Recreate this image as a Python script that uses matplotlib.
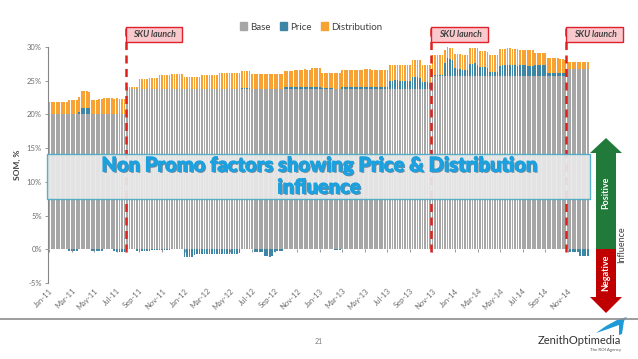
import numpy as np
import matplotlib
matplotlib.use("Agg")
import matplotlib.pyplot as plt
from matplotlib.patches import Rectangle, Polygon, Patch
import matplotlib.patheffects as pe

plt.rcParams['font.family'] = ['Lato', 'DejaVu Sans']

# ---------------- data (weekly, % share of market) ----------------
tick_labels = ["Jan-11", "Mar-11", "May-11", "Jul-11", "Sep-11", "Nov-11",
               "Jan-12", "Mar-12", "May-12", "Jul-12", "Sep-12", "Nov-12",
               "Jan-13", "Mar-13", "May-13", "Jul-13", "Sep-13", "Nov-13",
               "Jan-14", "Mar-14", "May-14", "Jul-14", "Sep-14", "Nov-14"]

base = [
    20.0, 20.0, 20.0, 20.0, 20.0, 20.0, 20.0, 20.0, 20.0, 20.0, 20.0, 20.0,
    20.0, 20.0, 20.0, 20.0, 20.0, 20.0, 20.0, 20.0, 20.0, 20.0, 20.0, 20.0,
    20.0, 20.0, 20.0, 20.0, 20.0, 20.0, 20.0, 23.8, 23.8, 23.8, 23.8, 23.8,
    23.8, 23.8, 23.8, 23.8, 23.8, 23.8, 23.8, 23.8, 23.8, 23.8, 23.8, 23.8,
    23.8, 23.8, 23.8, 23.8, 23.8, 23.8, 23.8, 23.8, 23.8, 23.8, 23.8, 23.8,
    23.8, 23.8, 23.8, 23.8, 23.8, 23.8, 23.8, 23.8, 23.8, 23.8, 23.8, 23.8,
    23.8, 23.8, 23.8, 23.8, 23.8, 23.8, 23.8, 23.8, 23.8, 23.8, 23.8, 23.8,
    23.8, 23.8, 23.8, 23.8, 23.8, 23.8, 23.8, 23.8, 23.8, 23.8, 23.8, 23.8,
    23.8, 23.8, 23.8, 23.8, 23.8, 23.8, 23.8, 23.8, 23.8, 23.8, 23.8, 23.8,
    23.8, 23.8, 23.8, 23.8, 23.8, 23.8, 23.8, 23.8, 23.8, 23.8, 23.8, 23.8,
    23.8, 23.8, 23.8, 23.8, 23.8, 23.8, 23.8, 23.8, 23.8, 23.8, 23.8, 23.8,
    23.8, 23.8, 23.8, 23.8, 23.8, 23.8, 23.8, 23.8, 23.8, 23.8, 23.8, 23.8,
    23.8, 23.8, 23.8, 23.8, 23.8, 23.8, 23.8, 23.8, 23.8, 25.7, 25.7, 25.7,
    25.7, 25.7, 25.7, 25.7, 25.7, 25.7, 25.7, 25.7, 25.7, 25.7, 25.7, 25.7,
    25.7, 25.7, 25.7, 25.7, 25.7, 25.7, 25.7, 25.7, 25.7, 25.7, 25.7, 25.7,
    25.7, 25.7, 25.7, 25.7, 25.7, 25.7, 25.7, 25.7, 25.7, 25.7, 25.7, 25.7,
    25.7, 25.7, 25.7, 25.7, 25.7, 25.7, 25.7, 25.7, 25.7, 25.7, 25.7, 25.7,
    25.7, 25.7, 25.7, 26.8, 26.8, 26.8, 26.8, 26.8, 26.8, 26.8, 26.8, 26.8,
]

price = [
    0.1, 0.1, 0.1, 0.1, 0.0, 0.0, 0.0, 0.0, -0.25, -0.3, -0.25, -0.2,
    0.3, 1.0, 1.0, 1.0, 0.9, -0.2, -0.2, -0.25, -0.2, -0.2, 0.0, 0.0,
    0.0, 0.0, -0.3, -0.35, -0.4, -0.35, -0.4, 0.0, 0.0, 0.0, 0.0, -0.2,
    -0.2, -0.2, -0.25, -0.2, -0.2, -0.15, -0.15, -0.15, -0.1, -0.15, -0.15, -0.15,
    -0.15, 0.0, 0.0, 0.0, 0.0, 0.0, -1.1, -1.15, -1.1, -1.1, -0.8, -0.75,
    -0.75, -0.7, -0.75, -0.7, -0.75, -0.7, -0.7, -0.75, -0.7, -0.75, -0.7, -0.7,
    -0.7, -0.75, -0.7, -0.65, -0.6, 0.15, 0.15, 0.15, 0.1, 0.0, -0.35, -0.4,
    -0.4, -0.45, -1.0, -1.05, -1.1, -1.0, -0.4, -0.3, -0.3, -0.2, 0.2, 0.2,
    0.2, 0.2, 0.25, 0.25, 0.2, 0.2, 0.2, 0.25, 0.25, 0.2, 0.2, 0.2,
    0.2, 0.1, 0.1, 0.1, 0.1, 0.1, -0.1, -0.1, -0.1, 0.25, 0.25, 0.25,
    0.25, 0.3, 0.3, 0.3, 0.25, 0.25, 0.3, 0.3, 0.3, 0.25, 0.25, 0.25,
    0.25, 0.3, 0.3, 0.3, 1.2, 1.2, 1.3, 1.3, 1.2, 1.2, 1.1, 1.2,
    1.2, 1.8, 1.8, 1.7, 1.6, 1.0, 1.0, 1.0, 0.9, 0.1, 0.1, 0.1,
    0.1, 0.1, 2.0, 2.6, 2.5, 2.3, 1.2, 1.1, 1.1, 0.9, 0.9, 0.9,
    1.8, 1.8, 1.9, 1.7, 1.3, 1.3, 1.3, 1.2, 0.6, 0.6, 0.6, 0.6,
    1.5, 1.6, 1.6, 1.7, 1.7, 1.6, 1.6, 1.5, 1.6, 1.6, 1.6, 1.5,
    1.5, 1.5, 1.6, 1.6, 1.6, 1.6, 1.6, 0.5, 0.5, 0.5, 0.5, 0.5,
    0.5, 0.5, 0.5, 0.0, -0.4, -0.4, -0.4, -0.4, -1.0, -1.0, -1.0, -1.0,
]

distribution = [
    1.7, 1.7, 1.7, 1.7, 1.8, 1.8, 1.8, 1.8, 2.1, 2.1, 2.1, 2.2,
    2.3, 2.5, 2.5, 2.5, 2.4, 2.2, 2.2, 2.2, 2.3, 2.3, 2.4, 2.4,
    2.4, 2.4, 2.3, 2.4, 2.3, 2.3, 2.3, 0.2, 0.2, 0.2, 0.2, 0.2,
    1.4, 1.4, 1.4, 1.4, 1.6, 1.6, 1.6, 1.6, 2.0, 2.0, 2.0, 2.0,
    2.0, 2.2, 2.2, 2.2, 2.2, 2.2, 1.8, 1.8, 1.8, 1.8, 1.8, 1.8,
    1.8, 2.0, 2.0, 2.0, 2.0, 2.0, 2.0, 2.0, 2.4, 2.4, 2.4, 2.4,
    2.4, 2.4, 2.4, 2.4, 2.4, 2.45, 2.45, 2.5, 2.5, 2.2, 2.2, 2.2,
    2.2, 2.2, 2.2, 2.2, 2.2, 2.2, 2.2, 2.2, 2.2, 2.2, 2.5, 2.5,
    2.5, 2.5, 2.5, 2.6, 2.6, 2.6, 2.7, 2.6, 2.6, 2.9, 2.9, 2.9,
    2.9, 2.2, 2.2, 2.2, 2.2, 2.2, 2.3, 2.3, 2.3, 2.55, 2.55, 2.55,
    2.55, 2.5, 2.5, 2.5, 2.55, 2.55, 2.6, 2.6, 2.6, 2.55, 2.55, 2.55,
    2.55, 2.5, 2.5, 2.5, 2.3, 2.3, 2.2, 2.2, 2.3, 2.3, 2.4, 2.3,
    2.3, 2.4, 2.4, 2.5, 2.6, 2.6, 2.6, 2.6, 2.7, 3.0, 3.0, 3.0,
    3.0, 3.0, 1.8, 1.8, 1.7, 1.8, 2.1, 2.2, 2.2, 2.2, 2.2, 2.2,
    2.4, 2.4, 2.3, 2.4, 2.4, 2.4, 2.4, 2.4, 2.5, 2.5, 2.5, 2.5,
    2.5, 2.4, 2.4, 2.4, 2.4, 2.4, 2.4, 2.5, 2.3, 2.3, 2.3, 2.3,
    2.3, 2.3, 1.8, 1.8, 1.8, 1.8, 1.8, 2.2, 2.2, 2.1, 2.1, 2.1,
    2.0, 2.0, 1.9, 1.0, 1.0, 1.0, 1.0, 1.0, 1.0, 1.0, 1.0, 1.0,
]

launch_weeks = [30.5, 152.5, 206.5]   # SKU launch between these bars
tick_every = 9                        # one label every 9 weeks

# ---------------- figure ----------------
W, H = 638, 359
fig = plt.figure(figsize=(W / 100, H / 100), dpi=100)
fig.patch.set_facecolor('white')

def fx(px):
    return px / W

def fy(py):
    return 1 - py / H

ax = fig.add_axes([fx(48), fy(283), (589 - 48) / W, (283 - 47) / H])

c_base, c_price, c_dist = '#A6A6A6', '#3E86A5', '#F7A233'
x = np.arange(len(base))
b = np.array(base)
p = np.array(price)
d = np.array(distribution)
pp = np.clip(p, 0, None)
pn = np.clip(p, None, 0)
bw = 0.7
ax.bar(x, b, width=bw, color=c_base, linewidth=0)
ax.bar(x, pp, bottom=b, width=bw, color=c_price, linewidth=0)
ax.bar(x, pn, width=bw, color=c_price, linewidth=0)
ax.bar(x, d, bottom=b + pp, width=bw, color=c_dist, linewidth=0)

ax.set_xlim(-0.5, len(base) - 0.5)
ax.set_ylim(-5, 30)
ax.set_yticks([-5, 0, 5, 10, 15, 20, 25, 30])
ax.set_yticklabels([f"{v}%" for v in [-5, 0, 5, 10, 15, 20, 25, 30]],
                   fontsize=5.5, color='#6E6E6E')
ticks = np.arange(0, len(base), tick_every)[:len(tick_labels)]
ax.set_xticks(ticks)
ax.set_xticklabels(tick_labels, rotation=45, ha='right', rotation_mode='anchor',
                   fontsize=5.5, color='#6E6E6E')
ax.tick_params(axis='x', length=0, pad=3)
ax.tick_params(axis='y', length=2.5, width=0.6, color='#868686', pad=2)
for s in ['top', 'right', 'bottom']:
    ax.spines[s].set_visible(False)
ax.spines['left'].set_color('#868686')
ax.spines['left'].set_linewidth(0.8)
ax.vlines(ticks, -0.35, 0, color='#868686', linewidth=0.6)
ax.set_ylabel("SOM, %", fontsize=6, color='#404040', fontweight='bold', labelpad=4)

# SKU launch lines and boxes
for lw_ in launch_weeks:
    ax.plot([lw_, lw_], [-0.4, 33.3], color='#E0201B', linewidth=1.8,
            linestyle=(0, (3.2, 2.2)), clip_on=False, zorder=4)
    ax.add_patch(Rectangle((lw_, 30.74), 22.6, 2.2, facecolor='#F9C9CD',
                           edgecolor='#E0202B', linewidth=1.0, clip_on=False, zorder=5))
    ax.text(lw_ + 11.5, 31.8, "SKU launch", fontsize=6.3, style='italic',
            fontweight='bold', color='#404040', ha='center', va='center',
            clip_on=False, zorder=6)

# legend
handles = [Patch(color=c_base, label='Base'), Patch(color=c_price, label='Price'),
           Patch(color=c_dist, label='Distribution')]
fig.legend(handles=handles, loc='center', bbox_to_anchor=(fx(311), fy(27)), ncol=3,
           frameon=False, fontsize=7, handlelength=0.8, handleheight=0.8,
           handletextpad=0.3, columnspacing=0.9, labelcolor='#404040')

# overlay banner
fig.add_artist(Rectangle((fx(47), fy(199)), (590 - 47) / W, (199 - 154) / H,
                         transform=fig.transFigure, facecolor='#E8E8E8', alpha=0.93,
                         edgecolor='#4BACC6', linewidth=1.0, zorder=10))
shadow = [pe.withSimplePatchShadow(offset=(0.9, -0.9), shadow_rgbFace='#1A3A55', alpha=0.55),
          pe.Stroke(linewidth=0.8, foreground='#1DA1DE'), pe.Normal()]
for txt, yy in [("Non Promo factors showing Price & Distribution", 165), ("influence", 187)]:
    t = fig.text(fx(319), fy(yy), txt, fontsize=14.5, fontweight='black',
                 color='#1DA1DE', ha='center', va='center', zorder=11)
    t.set_path_effects(shadow)

# influence arrow
cx = 606
green = [(cx - 10, 249), (cx - 10, 153), (cx - 16, 153), (cx, 138), (cx + 16, 153),
         (cx + 10, 153), (cx + 10, 249)]
red = [(cx - 10, 249), (cx - 10, 297), (cx - 16, 297), (cx, 313), (cx + 16, 297),
       (cx + 10, 297), (cx + 10, 249)]
fig.add_artist(Polygon([(fx(a), fy(bb)) for a, bb in green], closed=True,
                       transform=fig.transFigure, facecolor='#217A3A', edgecolor='none', zorder=10))
fig.add_artist(Polygon([(fx(a), fy(bb)) for a, bb in red], closed=True,
                       transform=fig.transFigure, facecolor='#C00000', edgecolor='none', zorder=10))
fig.text(fx(cx), fy(193), "Positive", rotation=90, color='white', fontsize=6.5,
         fontweight='bold', ha='center', va='center', zorder=11)
fig.text(fx(cx), fy(273), "Negative", rotation=90, color='white', fontsize=6.5,
         fontweight='bold', ha='center', va='center', zorder=11)
fig.text(fx(622), fy(245), "Influence", rotation=90, color='#404040', fontsize=6.5,
         ha='center', va='center', zorder=11)

# footer
fig.add_artist(plt.Line2D([0, 1], [fy(319), fy(319)], transform=fig.transFigure,
                          color='#8C8C8C', linewidth=1.2))
fig.text(fx(319), fy(341), "21", fontsize=5, color='#808080', ha='center', va='center')
fig.text(fx(621), fy(340), "ZenithOptimedia", fontsize=8, color='#333333',
         ha='right', va='center')
fig.text(fx(621), fy(350), "The ROI Agency", fontsize=3.2, color='#555555',
         ha='right', va='center')
swoosh = [(596, 333), (606, 326), (617, 320), (627, 317), (624, 321), (622, 334),
          (619, 335), (619, 325), (608, 329)]
fig.add_artist(Polygon([(fx(a), fy(bb)) for a, bb in swoosh], closed=True,
                       transform=fig.transFigure, facecolor='#1E9AD6', edgecolor='none'))

fig.savefig("out.png", dpi=100, facecolor='white')
